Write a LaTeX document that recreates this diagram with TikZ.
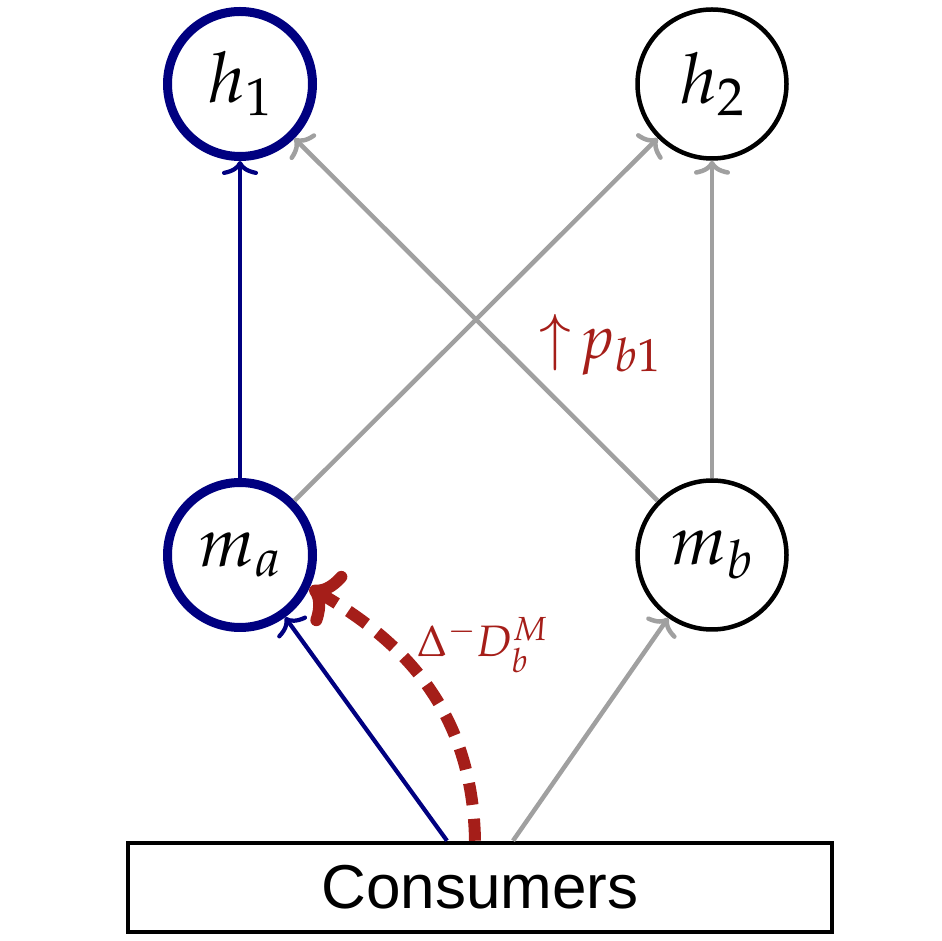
\documentclass[tikz,border=0pt]{standalone}
\usepackage{mathpazo}
\usepackage[no-math]{fontspec}
\newfontfamily\consfont{Liberation Sans}
\usetikzlibrary{arrows.meta}
\definecolor{navy}{RGB}{0,0,128}
\definecolor{edgegray}{RGB}{160,160,160}
\definecolor{darkred}{RGB}{165,30,25}
\begin{document}
\begin{tikzpicture}[x=1pt,y=1pt,
  nodebase/.style={circle, fill=white, inner sep=0pt, font=\fontsize{70}{80}\selectfont},
  bluenode/.style={nodebase, draw=navy, line width=9pt, minimum size=145pt},
  blacknode/.style={nodebase, draw=black, line width=4.5pt, minimum size=149pt},
  cmtip/.style={-{Computer Modern Rightarrow[length=14pt,width=36pt]}},
  blueedge/.style={cmtip, draw=navy, line width=4.2pt},
  grayedge/.style={cmtip, draw=edgegray, line width=4.5pt},
  rededge/.style={-{Computer Modern Rightarrow[length=28pt,width=62pt]}, draw=darkred, line width=12pt, dash pattern=on 22pt off 14pt},
  consbox/.style={draw=black, line width=4.5pt, fill=white, minimum width=704pt, minimum height=89pt, inner sep=0pt, font=\consfont\fontsize{62}{70}\selectfont},
  lbl/.style={text=darkred, inner sep=0pt}
]
\useasboundingbox (0,0) rectangle (942,940);
\node[bluenode] (h1) at (240,856) {$h_1$};
\node[blacknode] (h2) at (712,856) {$h_2$};
\node[bluenode] (ma) at (240,385) {$m_a$};
\node[blacknode] (mb) at (712,385) {$m_b$};
\node[consbox] (cons) at (480,52.5) {Consumers};
\draw[blueedge] (ma) -- (h1);
\draw[grayedge] (ma) -- (h2);
\draw[grayedge] (mb) -- (h1);
\draw[grayedge] (mb) -- (h2);
\draw[blueedge] ([xshift=-33pt]cons.north) -- (ma);
\draw[grayedge] ([xshift=33pt]cons.north) -- (mb);
\draw[rededge] ([xshift=-5pt]cons.north) to[out=91,in=-30,out distance=133pt,in distance=104pt] (ma.-25);
\node[lbl, font=\fontsize{61}{70}\selectfont] (pb) at (600,595) {$\uparrow\mkern-3mu p_{b1}$};
\node[lbl, font=\fontsize{44}{52}\selectfont] (dd) at (482,295) {$\Delta^{-}D_b^M$};
\end{tikzpicture}
\end{document}
